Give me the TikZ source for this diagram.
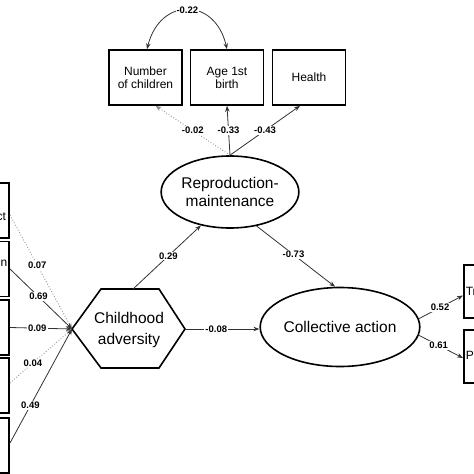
\documentclass[tikz,border=0pt]{standalone}
\usepackage{fontspec}
\setmainfont{Liberation Sans}
\usetikzlibrary{shapes.geometric, arrows.meta, calc}
\tikzset{
    obs/.style = {draw, line width=1.6pt, minimum width=73pt, minimum height=55pt, align=center, inner sep=2pt, font=\fontsize{12}{13}\selectfont},
    lat/.style = {draw, ellipse, line width=1.6pt, align=center, inner sep=0pt, font=\fontsize{15.5}{18}\selectfont},
    path/.style = {draw=black!80, line width=0.8pt, -{Stealth[length=6pt,width=4.5pt]}},
    weak/.style = {path, draw=black!45, dotted, line width=0.9pt},
    coef/.style = {fill=white, inner sep=1pt, font=\bfseries\fontsize{9.5}{10}\selectfont},
}

\begin{document}
\begin{tikzpicture}[x=1pt,y=-1pt]
\useasboundingbox (0,0) rectangle (474,474);
\clip (0,0) rectangle (474,474);

% indicators of reproduction-maintenance
\node[obs](nchild) at (145.5,77.5) {Number\\of children};
\node[obs](agebirth) at (227,77.5) {Age 1st\\birth};
\node[obs](health) at (309,77.5) {Health};

% latent variables
\node[lat, minimum width=134pt, minimum height=72pt](repro) at (230,192) {Reproduction-\\maintenance};
\node[lat, minimum width=145pt, minimum height=79pt](collective) at (340,327) {Collective action};

% childhood adversity (composite)
\coordinate (adv-w) at (72,329);
\coordinate (adv-nw) at (101,289);
\coordinate (adv-ne) at (159,289);
\coordinate (adv-e) at (185,329);
\coordinate (adv-se) at (159,368);
\coordinate (adv-sw) at (101,368);
\coordinate (adv-top) at (133,289);
\draw[line width=1.6pt, line join=miter](adv-w) -- (adv-nw) -- (adv-ne) -- (adv-e) -- (adv-se) -- (adv-sw) -- cycle;
\node[align=center, font=\fontsize{15.5}{21}\selectfont](adv) at (129,330) {Childhood\\adversity};

% adversity items (cut off at the left edge)
\node[obs, anchor=east, minimum width=92pt](b1) at (10,210.5) {Parental\\physical neglect};
\node[obs, anchor=east, minimum width=92pt](b2) at (10,269) {Family disruption\\};
\node[obs, anchor=east, minimum width=92pt](b3) at (10,327.5) {};
\node[obs, anchor=east, minimum width=92pt](b4) at (10,385.5) {};
\node[obs, anchor=east, minimum width=92pt](b5) at (10,445.5) {};

% collective action items (cut off at the right edge)
\node[obs, anchor=west, minimum height=53pt, text width=95pt, align=left](r1) at (463,291.5) {Trust in others};
\node[obs, anchor=west, minimum height=53pt, text width=95pt, align=left](r2) at (463,356.5) {Participation};

% paths
\draw[weak]([yshift=-4.5pt]b1.east) -- (adv-w) node[coef,pos=0.44]{0.07};
\draw[path](b2.east) -- (adv-w) node[coef,pos=0.46]{0.69};
\draw[path](b3.east) -- (adv-w) node[coef,pos=0.44]{0.09};
\draw[weak]([yshift=2.5pt]b4.east) -- (adv-w) node[coef,pos=0.37]{0.04};
\draw[path]([yshift=2.5pt]b5.east) -- (adv-w) node[coef,pos=0.33]{0.49};

\draw[weak](repro.north) -- ([xshift=10pt]nchild.south) node[coef,pos=0.5]{-0.02};
\draw[path](repro.north) -- (agebirth.south) node[coef,pos=0.5]{-0.33};
\draw[path](repro.north) -- ([xshift=-9pt]health.south) node[coef,pos=0.5]{-0.43};
\draw[path, {Stealth[length=6pt,width=4.5pt]}-{Stealth[length=6pt,width=4.5pt]}]([xshift=1.5pt]nchild.north) .. controls (160,-3) and (215,-3) .. (agebirth.north) node[coef,pos=0.5]{-0.22};

\draw[path](adv-top) -- (repro.229) node[coef,pos=0.52]{0.29};
\draw[path](repro.308) -- (collective.97) node[coef,pos=0.47]{-0.73};
\draw[path](adv-e) -- (adv-e -| collective.west) node[coef,pos=0.42]{-0.08};

\draw[path](collective.6) -- ([yshift=-4pt]r1.west) node[coef,pos=0.48]{0.52};
\draw[path](collective.-6) -- ([yshift=-1.5pt]r2.west) node[coef,pos=0.45]{0.61};

\end{tikzpicture}
\end{document}
